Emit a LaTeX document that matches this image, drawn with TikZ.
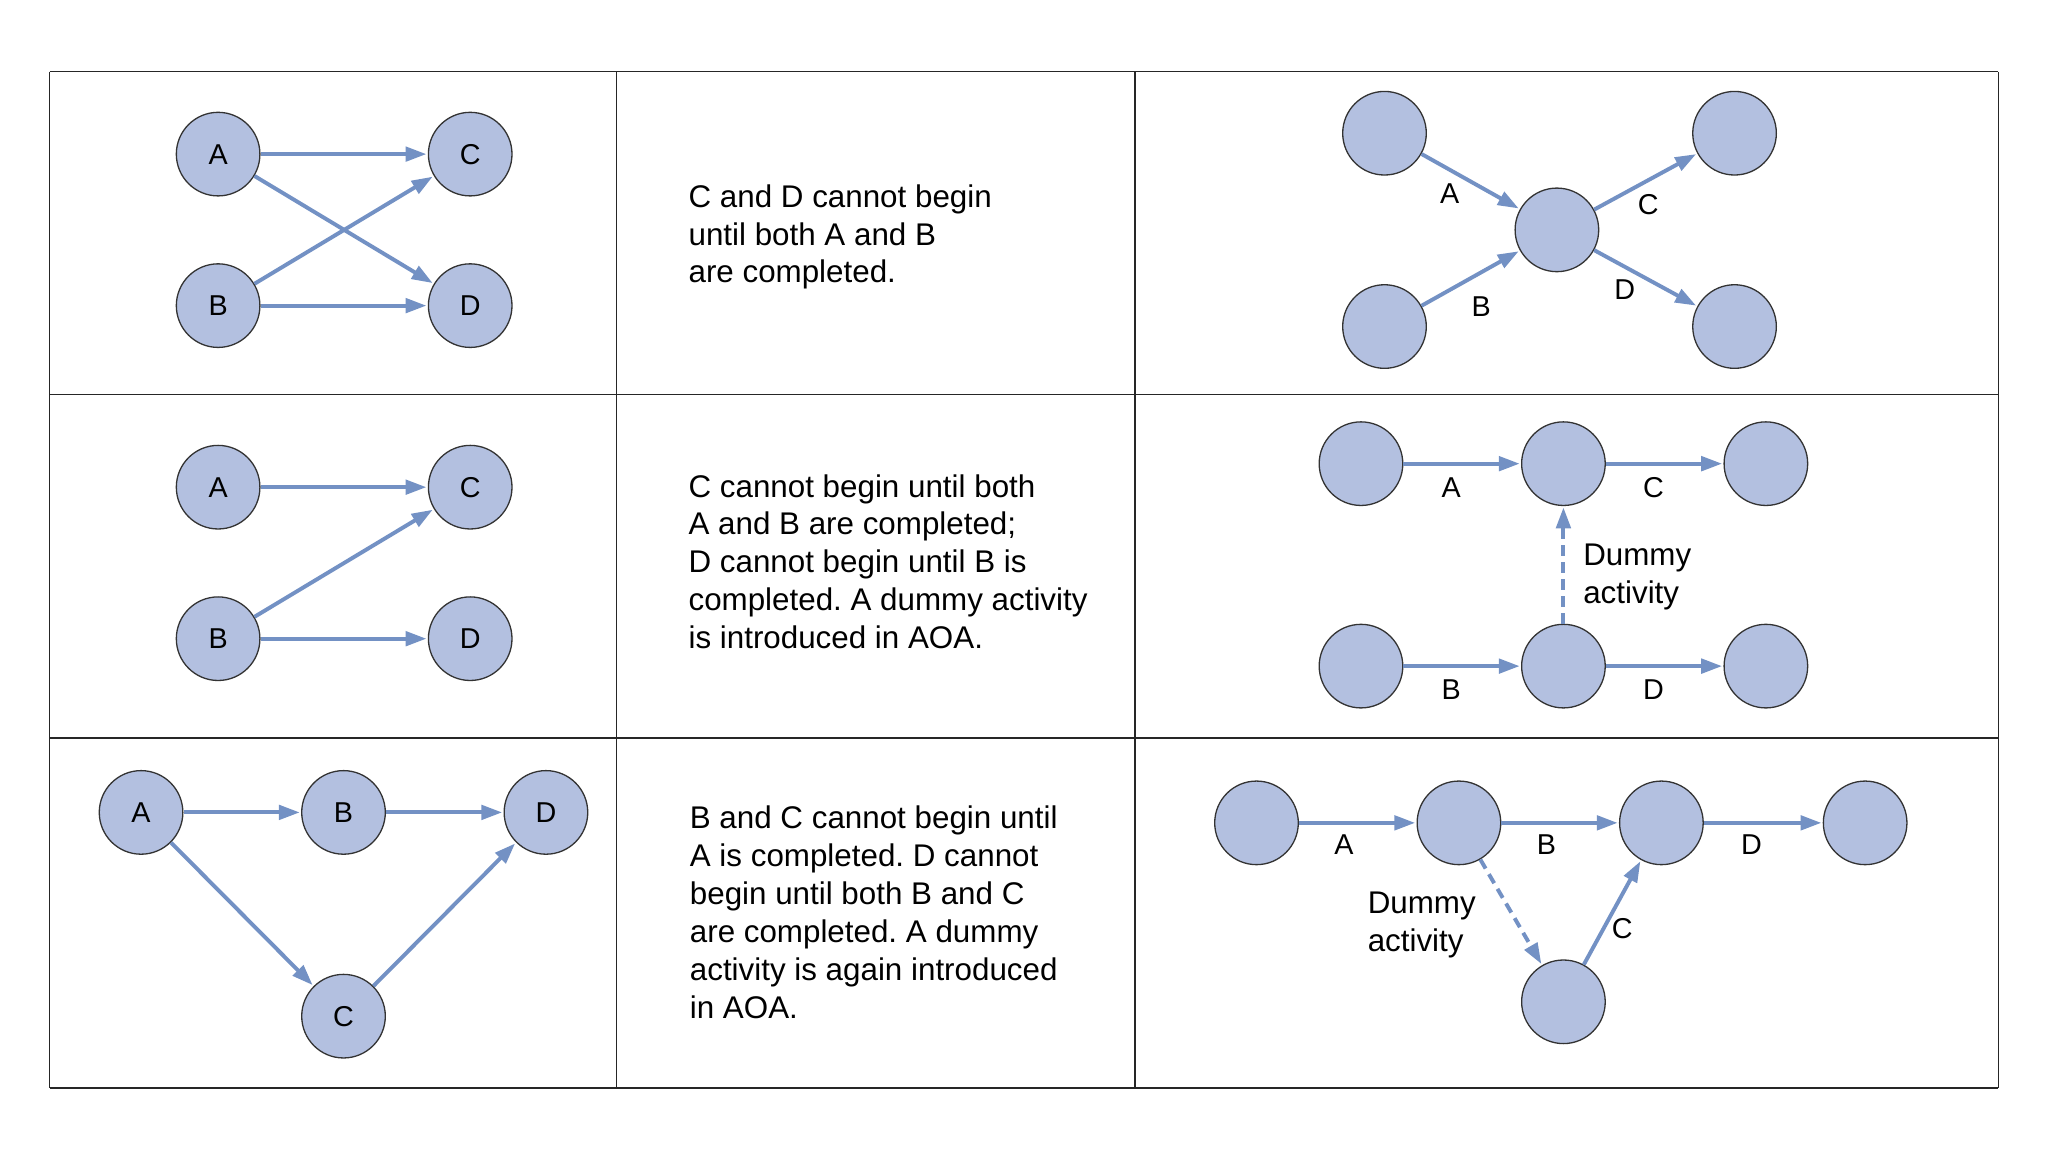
\documentclass[tikz,border=0pt]{standalone}
\usepackage{fontspec}
\setmainfont{Liberation Sans}
\usetikzlibrary{arrows.meta}
\definecolor{nfill}{HTML}{B3C0E0}
\definecolor{arr}{HTML}{7391C4}
\frenchspacing
\begin{document}
\begin{tikzpicture}[x=1pt,y=-1pt,
  nd/.style={circle,draw=black!80,line width=1pt,fill=nfill,minimum size=64pt,inner sep=0pt,font=\fontsize{22}{25}\selectfont},
  ar/.style={draw=arr,line width=3pt,-{Triangle[length=16pt,width=11pt]},shorten >=1pt},
  da/.style={ar,dashed,dash pattern=on 8pt off 5pt},
  lb/.style={font=\fontsize{22}{25}\selectfont,inner sep=0pt},
  tx/.style={font=\fontsize{24}{29}\selectfont,align=left,anchor=north west,inner sep=0pt},
  grid/.style={draw=black!85,line width=1pt}]
\useasboundingbox (0,0) rectangle (1568,882);
\draw[grid] (38,55) -- (1530,55) (38,302) -- (1530,302) (38,565) -- (1530,565) (38,833) -- (1530,833);
\draw[grid] (38,55) -- (38,833) (472,55) -- (472,833) (869,55) -- (869,833) (1530,55) -- (1530,833);
% row 1 left
\node[nd] (a1) at (167,118) {A};
\node[nd] (c1) at (360,118) {C};
\node[nd] (b1) at (167,234) {B};
\node[nd] (d1) at (360,234) {D};
\draw[ar] (a1) -- (c1); \draw[ar] (a1) -- (d1); \draw[ar] (b1) -- (c1); \draw[ar] (b1) -- (d1);
\node[tx] (t1) at (527,141) {C and D cannot begin\\until both A and B\\are completed.};
% row 1 right
\node[nd] (p1) at (1060,102) {};
\node[nd] (p2) at (1060,250) {};
\node[nd] (pc) at (1192,176) {};
\node[nd] (p3) at (1328,102) {};
\node[nd] (p4) at (1328,250) {};
\draw[ar] (p1) -- (pc); \draw[ar] (p2) -- (pc); \draw[ar] (pc) -- (p3); \draw[ar] (pc) -- (p4);
\node[lb] (la1) at (1110,148) {A};
\node[lb] (lb1) at (1134,235) {B};
\node[lb] (lc1) at (1262,157) {C};
\node[lb] (ld1) at (1244,222) {D};
% row 2 left
\node[nd] (a2) at (167,373) {A};
\node[nd] (c2) at (360,373) {C};
\node[nd] (b2) at (167,489) {B};
\node[nd] (d2) at (360,489) {D};
\draw[ar] (a2) -- (c2); \draw[ar] (b2) -- (c2); \draw[ar] (b2) -- (d2);
\node[tx] (t2) at (527,363) {C cannot begin until both\\A and B are completed;\\D cannot begin until B is\\completed. A dummy activity\\is introduced in AOA.};
% row 2 right
\node[nd] (q1) at (1042,355) {};
\node[nd] (q2) at (1197,355) {};
\node[nd] (q3) at (1352,355) {};
\node[nd] (q4) at (1042,510) {};
\node[nd] (q5) at (1197,510) {};
\node[nd] (q6) at (1352,510) {};
\draw[ar] (q1) -- (q2); \draw[ar] (q2) -- (q3); \draw[ar] (q4) -- (q5); \draw[ar] (q5) -- (q6);
\draw[da] (q5) -- (q2);
\node[lb] (la2) at (1111,373) {A};
\node[lb] (lc2) at (1266,373) {C};
\node[lb] (lb2) at (1111,528) {B};
\node[lb] (ld2) at (1266,528) {D};
\node[tx] (dm2) at (1212,416) {Dummy\\activity};
% row 3 left
\node[nd] (a3) at (108,622) {A};
\node[nd] (b3) at (263,622) {B};
\node[nd] (d3) at (418,622) {D};
\node[nd] (c3) at (263,778) {C};
\draw[ar] (a3) -- (b3); \draw[ar] (b3) -- (d3); \draw[ar] (a3) -- (c3); \draw[ar] (c3) -- (d3);
\node[tx] (t3) at (528,617) {B and C cannot begin until\\A is completed. D cannot\\begin until both B and C\\are completed. A dummy\\activity is again introduced\\in AOA.};
% row 3 right
\node[nd] (r1) at (962,630) {};
\node[nd] (r2) at (1117,630) {};
\node[nd] (r3) at (1272,630) {};
\node[nd] (r4) at (1428,630) {};
\node[nd] (r5) at (1197,767) {};
\draw[ar] (r1) -- (r2); \draw[ar] (r2) -- (r3); \draw[ar] (r3) -- (r4);
\draw[da] (r2) -- (r5); \draw[ar] (r5) -- (r3);
\node[lb] (la3) at (1029,647) {A};
\node[lb] (lb3) at (1184,647) {B};
\node[lb] (ld3) at (1341,647) {D};
\node[lb] (lc3) at (1242,711) {C};
\node[tx] (dm3) at (1047,683) {Dummy\\activity};
\end{tikzpicture}
\end{document}
